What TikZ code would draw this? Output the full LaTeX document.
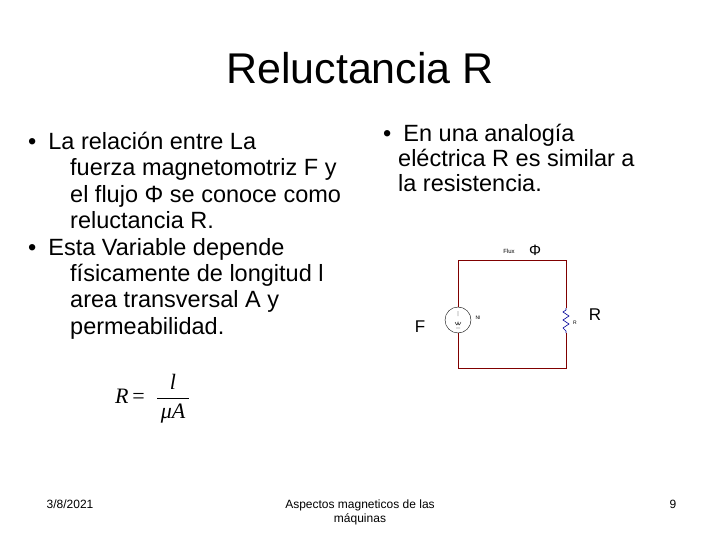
\documentclass[tikz,border=0pt]{standalone}
\usepackage{fontspec}
\setmainfont{Liberation Sans}
\newfontfamily\serf{Liberation Serif}
\begin{document}
\begin{tikzpicture}[x=1pt,y=-1pt,
  body/.style={anchor=north west,align=left,inner sep=0pt,font=\fontsize{23.5}{26.4}\selectfont},
  foot/.style={inner sep=0pt,font=\fontsize{12}{14}\selectfont},
  wire/.style={draw=red!50!black,line width=0.8pt}]
\useasboundingbox (0,0) rectangle (720,540);
\node[inner sep=0pt,font=\fontsize{43}{48}\selectfont] (title) at (360,68) {Reluctancia R};
\node[body] (left) at (28,132) {\textbullet\hspace{12pt}La relación entre La\\
\hspace{42pt}fuerza magnetomotriz F y\\
\hspace{42pt}el flujo Φ se conoce como\\
\hspace{42pt}reluctancia R.\\
\textbullet\hspace{12pt}Esta Variable depende\\
\hspace{42pt}físicamente de longitud l\\
\hspace{42pt}area transversal A y\\
\hspace{42pt}permeabilidad.};
\node[body,font=\fontsize{23.5}{25}\selectfont] (right) at (383,124) {\textbullet\hspace{12pt}En una analogía\\
\hspace{15pt}eléctrica R es similar a\\
\hspace{15pt}la resistencia.};
\node[inner sep=0pt,font=\serf\fontsize{22}{26}\selectfont] (eq) at (130,396) {\itshape R\upshape\,=};
\node[inner sep=0pt,font=\serf\fontsize{22}{26}\selectfont] (num) at (173,382) {\itshape l};
\node[inner sep=0pt,font=\serf\fontsize{22}{26}\selectfont] (den) at (173,414) {\itshape μA};
\draw[line width=0.6pt] (157,398) -- (189,398);
% circuit
\coordinate (tl) at (458,260); \coordinate (tr) at (566,260);
\coordinate (bl) at (458,368); \coordinate (br) at (566,368);
\node[circle,draw,minimum size=26pt,inner sep=0pt] (src) at (458,320) {};
\coordinate (rt) at (566,308); \coordinate (rb) at (566,333);
\draw[wire] (src.north) -- (tl) -- (tr) -- (rt);
\draw[wire] (src.south) -- (bl) -- (br) -- (rb);
\draw[blue!60!black,line width=0.6pt] (rt) -- (566,310) -- (563,312) -- (569,316) -- (563,320) -- (569,324) -- (563,328) -- (566,331) -- (rb);
\draw (458,311) -- (458,316) (455,322) .. controls (457,326) .. (458,322) .. controls (459,326) .. (461,322) (456,328) -- (460,328);
\node[font=\fontsize{5}{6}\selectfont,inner sep=0pt] (ni) at (478,318) {NI};
\node[font=\fontsize{5}{6}\selectfont,inner sep=0pt] (rr) at (575,323) {R};
\node[font=\fontsize{6}{7}\selectfont,inner sep=0pt] (flux) at (509,251) {Flux};
\node[font=\fontsize{15}{18}\selectfont,inner sep=0pt] (phi) at (535,250) {Φ};
\node[font=\fontsize{17}{18}\selectfont,inner sep=0pt] (F) at (420,327) {F};
\node[font=\fontsize{17}{18}\selectfont,inner sep=0pt] (R) at (595,315) {R};
\node[foot] (date) at (70,504) {3/8/2021};
\node[foot,align=center] (ft) at (360,512) {Aspectos magneticos de las\\máquinas};
\node[foot] (pg) at (673,504) {9};
\end{tikzpicture}
\end{document}
